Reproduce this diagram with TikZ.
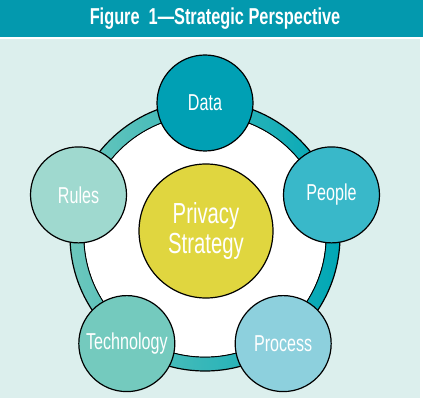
\documentclass[tikz,border=0pt]{standalone}
\usepackage{fontspec}
\setmainfont{Liberation Sans}
\newfontfamily\titlefont{Liberation Sans}[FakeStretch=0.71]
\newfontfamily\labelfont{Liberation Sans}[FakeStretch=0.70]
\usepackage{tikz}
\usetikzlibrary{calc}

\definecolor{barteal}{RGB}{3,153,174}
\definecolor{paper}{RGB}{220,239,237}
\definecolor{datacol}{RGB}{0,160,180}
\definecolor{peoplecol}{RGB}{57,184,201}
\definecolor{processcol}{RGB}{141,208,221}
\definecolor{techcol}{RGB}{116,202,190}
\definecolor{rulescol}{RGB}{159,217,207}
\definecolor{privcol}{RGB}{224,214,63}
\definecolor{ringleft}{RGB}{108,199,188}
\definecolor{ringright}{RGB}{0,167,182}

\tikzset{
  facet/.style={circle, draw=black, line width=1.2pt, minimum size=96pt, inner sep=0pt,
    text=white, font=\labelfont\fontsize{23}{25}\selectfont},
}

\begin{document}
\begin{tikzpicture}[x=1pt, y=1pt]
  \useasboundingbox (0,0) rectangle (423,402);
  \fill[white] (0,0) rectangle (423,402);
  \fill[paper] (0,4) rectangle (420,363);
  \fill[barteal] (0,365) rectangle (423,402);
  \node[text=white, font=\titlefont\bfseries\fontsize{23}{25}\selectfont] at (215,383.5) (title) {Figure\ \ 1\textemdash Strategic Perspective};

  \coordinate (hub) at (205,166);
  \path[draw=black, line width=1.2pt, left color=ringleft, right color=ringright, even odd rule]
    (hub) circle (135pt) (hub) circle (121pt);
  \fill[white] (hub) circle (120.4pt);

  \node[facet, fill=datacol] at ($(hub)+(90:133)$) (data) {Data};
  \node[facet, fill=peoplecol] at ($(hub)+(18:133)$) (people) {People};
  \node[facet, fill=processcol] at ($(hub)+(-54:133)$) (process) {Process};
  \node[facet, fill=techcol] at ($(hub)+(-126:133)$) (tech) {Technology};
  \node[facet, fill=rulescol] at ($(hub)+(162:133)$) (rules) {Rules};

  \node[facet, fill=privcol, minimum size=134pt, align=center,
    font=\labelfont\fontsize{29}{30}\selectfont] at (206,171) (priv) {Privacy\\Strategy};
\end{tikzpicture}
\end{document}
